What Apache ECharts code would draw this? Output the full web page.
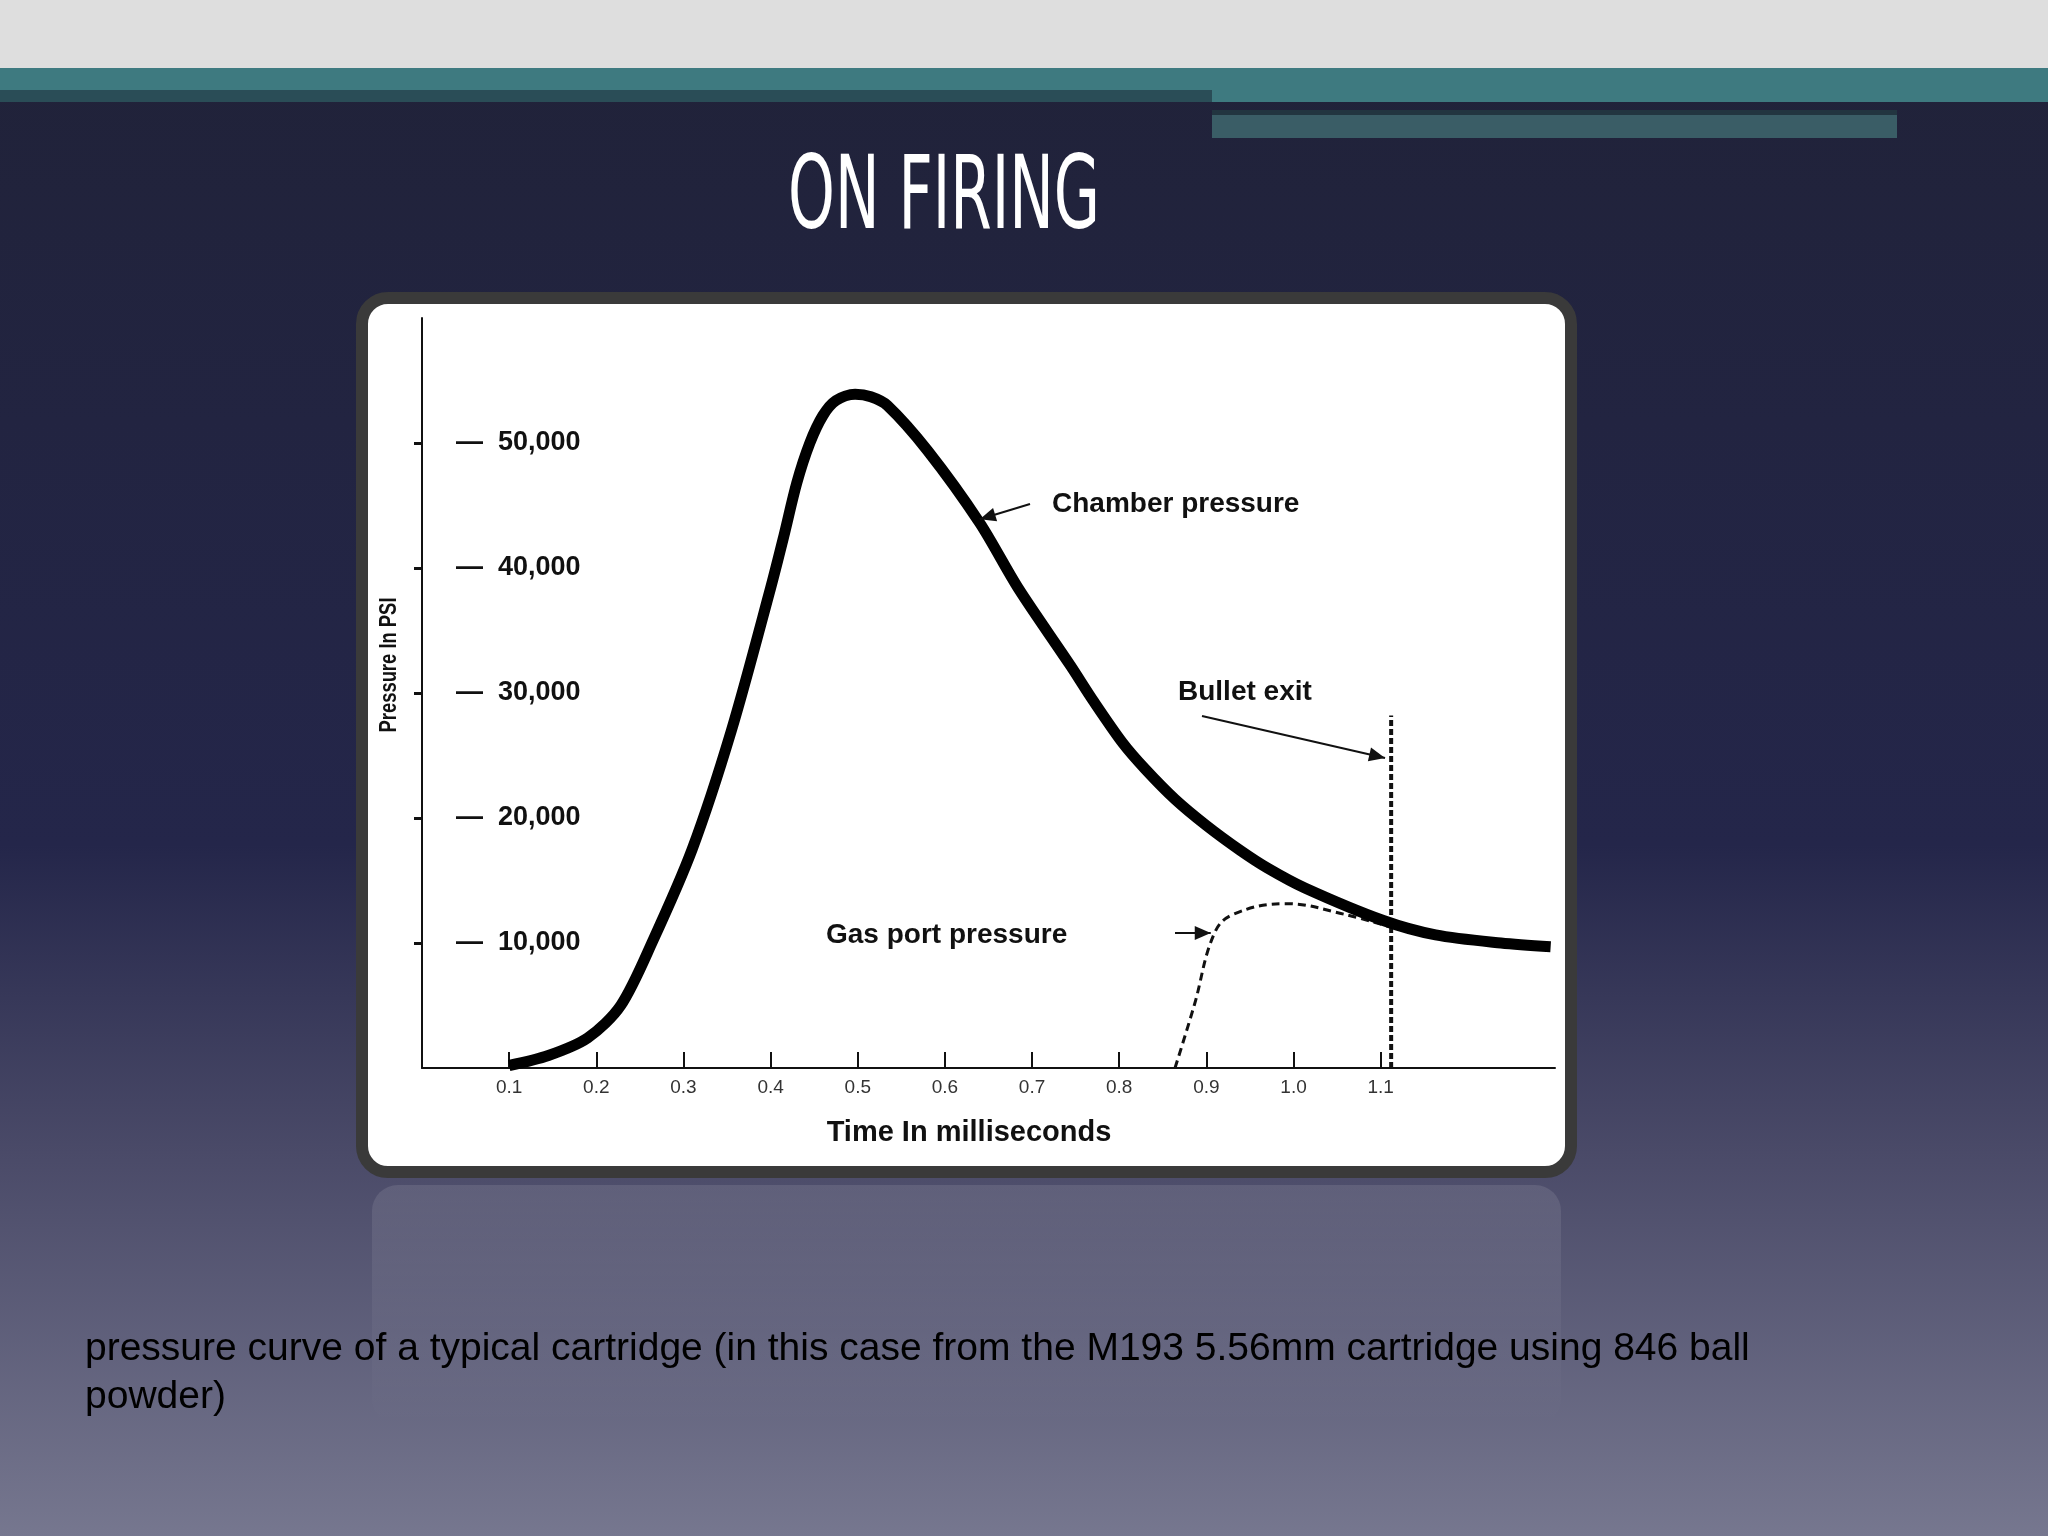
<!DOCTYPE html>
<html><head><meta charset="utf-8">
<script src="https://cdn.jsdelivr.net/npm/echarts@6/dist/echarts.min.js"></script>
<style>html,body{margin:0;padding:0}#c{width:2048px;height:1536px}</style>
</head><body><div id="c"></div>
<script>
// chamber pressure (ms, psi)
const chamberTime = [0.1, 0.145, 0.19, 0.228, 0.265, 0.31, 0.355, 0.4, 0.415, 0.43, 0.445, 0.46, 0.475, 0.497, 0.515, 0.534, 0.58, 0.64, 0.684, 0.744, 0.77, 0.804, 0.83, 0.864, 0.9, 0.939, 0.97, 1.013, 1.103, 1.163, 1.238, 1.295];
const chamberPsi = [200, 1000, 2400, 5000, 10200, 17500, 27000, 38400, 42500, 46800, 50000, 52200, 53400, 53900, 53700, 53000, 49400, 43600, 38400, 32200, 29400, 26000, 23900, 21500, 19400, 17400, 16000, 14400, 11800, 10650, 10000, 9700];
const gasTime = [0.864, 0.886, 0.909, 0.931, 0.991, 1.058, 1.11];
const gasPsi = [0, 5000, 10750, 12300, 13150, 12300, 11300];
const bulletExit = 1.112;
const yTicks = [10000, 20000, 30000, 40000, 50000];
const xTicks = [0.1, 0.2, 0.3, 0.4, 0.5, 0.6, 0.7, 0.8, 0.9, 1.0, 1.1];

const chart = echarts.init(document.getElementById('c'));
const zip = (a, b) => a.map((v, i) => [v, b[i]]);
const lbl = {fontFamily: 'Liberation Sans', fontWeight: 'bold', color: '#111'};

chart.setOption({
  animation: false,
  grid: {left: 422, top: 318, width: 1133, height: 750},
  xAxis: {
    type: 'value', min: 0, max: 1.3, interval: 0.1,
    axisLine: {lineStyle: {color: '#111', width: 2}},
    axisTick: {inside: true, length: 16, lineStyle: {color: '#111', width: 2},
      customValues: xTicks},
    axisLabel: {customValues: xTicks, formatter: v => v.toFixed(1), fontFamily: 'Liberation Sans',
      fontSize: 19, color: '#333', margin: 10},
    splitLine: {show: false}
  },
  yAxis: {
    type: 'value', min: 0, max: 60000,
    axisLine: {show: true, lineStyle: {color: '#111', width: 2}},
    axisTick: {show: true, length: 8, customValues: yTicks, lineStyle: {color: '#111', width: 3}},
    axisLabel: {inside: true, customValues: yTicks, margin: 34,
      formatter: v => '—  ' + v.toLocaleString('en-US'), ...lbl, fontSize: 27},
    splitLine: {show: false}
  },
  series: [
    {type: 'line', data: zip(chamberTime, chamberPsi), smooth: 0.3, symbol: 'none',
      lineStyle: {color: '#000', width: 11}, z: 5},
    {type: 'line', data: zip(gasTime, gasPsi), smooth: 0.4, symbol: 'none',
      lineStyle: {color: '#111', width: 3, type: [8, 5]}},
    {type: 'line', data: [[bulletExit, 0], [bulletExit, 28200]], symbol: 'none',
      lineStyle: {color: '#111', width: 4, type: [6, 3]}}
  ]
});

const px = (x, y) => chart.convertToPixel({gridIndex: 0}, [x, y]);
function arrow(a, b, w) {
  const ang = Math.atan2(b[1] - a[1], b[0] - a[0]), L = 16, W = 7;
  const p1 = [b[0] - L * Math.cos(ang) + W * Math.sin(ang), b[1] - L * Math.sin(ang) - W * Math.cos(ang)];
  const p2 = [b[0] - L * Math.cos(ang) - W * Math.sin(ang), b[1] - L * Math.sin(ang) + W * Math.cos(ang)];
  return [
    {type: 'line', shape: {x1: a[0], y1: a[1], x2: b[0], y2: b[1]}, style: {stroke: '#111', lineWidth: w}, z: 20},
    {type: 'polygon', shape: {points: [b, p1, p2]}, style: {fill: '#111'}, z: 20}
  ];
}
const chamberTip = px(0.64, 43900), gasTip = px(0.905, 10800), exitTip = px(1.105, 24800);
chart.setOption({graphic: [
  {type: 'rect', shape: {x: 0, y: 0, width: 2048, height: 1536}, z: -10, silent: true,
    style: {fill: new echarts.graphic.LinearGradient(0, 0, 0, 1, [
      {offset: 0, color: '#202238'}, {offset: 0.55, color: '#24264a'}, {offset: 0.75, color: '#4a4a68'}, {offset: 1, color: '#76778f'}])}},
  {type: 'rect', shape: {x: 0, y: 0, width: 2048, height: 68}, z: -9, style: {fill: '#dedede'}},
  {type: 'rect', shape: {x: 0, y: 68, width: 2048, height: 34}, z: -9, style: {fill: '#3e7a80'}},
  {type: 'rect', shape: {x: 0, y: 90, width: 1212, height: 12}, z: -8, style: {fill: '#2a4d57'}},
  {type: 'rect', shape: {x: 1212, y: 110, width: 685, height: 28}, z: -9, style: {fill: '#3a5d66'}},
  {type: 'rect', shape: {x: 1212, y: 110, width: 685, height: 5}, z: -8, style: {fill: '#223540'}},
  {type: 'rect', shape: {x: 362, y: 298, width: 1209, height: 874, r: 26}, z: -5,
    style: {fill: '#fff', stroke: '#3a3a3a', lineWidth: 12}},
  {type: 'rect', shape: {x: 372, y: 1185, width: 1189, height: 240, r: 26}, z: -6,
    style: {fill: new echarts.graphic.LinearGradient(0, 0, 0, 1, [
      {offset: 0, color: 'rgba(255,255,255,0.1)'}, {offset: 1, color: 'rgba(255,255,255,0)'}])}},
  {type: 'text', x: 944, y: 202, z: 10, scaleX: 0.72, scaleY: 1.1, style: {text: 'ON FIRING', fill: '#fff',
    font: '92px "DejaVu Sans Condensed"', align: 'center', verticalAlign: 'middle'}},
  {type: 'text', x: 969, y: 1133, z: 10, style: {text: 'Time In milliseconds', fill: '#111', font: 'bold 29px "Liberation Sans"',
    align: 'center', verticalAlign: 'middle'}},
  {type: 'text', x: 390, y: 665, rotation: Math.PI / 2, scaleX: 0.8, z: 10, style: {text: 'Pressure In PSI', fill: '#111',
    font: 'bold 23px "Liberation Sans"', align: 'center', verticalAlign: 'middle'}},
  {type: 'text', x: 1052, y: 504, z: 10, style: {text: 'Chamber pressure', fill: '#111', font: 'bold 28px "Liberation Sans"', verticalAlign: 'middle'}},
  {type: 'text', x: 1178, y: 692, z: 10, style: {text: 'Bullet exit', fill: '#111', font: 'bold 28px "Liberation Sans"', verticalAlign: 'middle'}},
  {type: 'text', x: 826, y: 935, z: 10, style: {text: 'Gas port pressure', fill: '#111', font: 'bold 28px "Liberation Sans"', verticalAlign: 'middle'}},
  ...arrow([1030, 504], chamberTip, 2),
  ...arrow([1175, 933], gasTip, 2),
  ...arrow([1202, 716], exitTip, 2),
  {type: 'text', x: 85, y: 1325, z: 10, style: {text: 'pressure curve of a typical cartridge (in this case from the M193 5.56mm cartridge using 846 ball\npowder)',
    fill: '#000', font: '39px "Liberation Sans"', lineHeight: 48, verticalAlign: 'top'}}
]});
</script></body></html>
